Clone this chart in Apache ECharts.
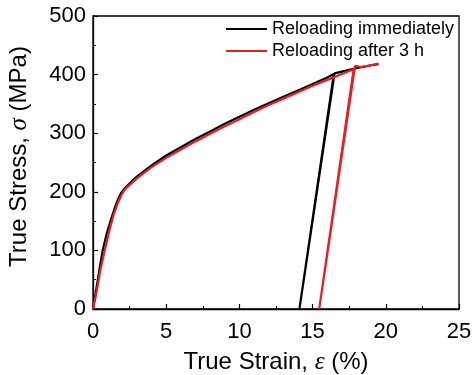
<!DOCTYPE html>
<html><head><meta charset="utf-8">
<script src="https://cdn.jsdelivr.net/npm/echarts@6/dist/echarts.min.js"></script>
<style>html,body{margin:0;padding:0;background:#fff}#c{width:474px;height:375px}</style>
</head><body><div id="c"></div>
<script>
const seriesNames = ["Reloading immediately", "Reloading after 3 h"];
const immediately = [[0,0],[0.2,30],[0.43,66],[0.66,100],[0.95,130],[1.28,157],[1.55,177],[1.75,190],[1.95,199],[2.2,207],[2.53,215],[3,226],[4,245],[5,262],[6,276],[7,290],[8,303],[9,316],[10,328],[11,340],[12,351],[13,362],[14,373],[15,384],[16,395],[16.45,401],[14.1,0],[16.5,402],[17,405],[18,411],[19,416],[19.5,418]];
const after3h = [[0,0],[0.25,30],[0.5,66],[0.8,100],[1.1,132],[1.4,160],[1.7,181],[1.95,195],[2.2,205],[2.6,214],[3,223],[4,242],[5,258],[6,272],[7,286],[8,299],[9,312],[10,324],[11,336],[12,348],[13,359],[14,370],[15,381],[16,391],[17,401],[17.8,409],[15.45,0],[17.9,415],[18.3,413],[19,416],[19.5,419]];
const xTicks = {min:0, max:25, interval:5};
const yTicks = {min:0, max:500, interval:100};

const chart = echarts.init(document.getElementById('c'), null, {renderer:'canvas'});
const FONT = 'Liberation Sans, Arial, sans-serif';
const axisCommon = {
  axisLine:{show:true, lineStyle:{color:'#000', width:1.3}},
  axisTick:{show:true, inside:true, length:5, lineStyle:{color:'#000', width:1.2}},
  minorTick:{show:true, splitNumber:2, length:3, lineStyle:{color:'#000', width:1}},
  splitLine:{show:false},
  axisLabel:{color:'#000', fontSize:22, fontFamily:FONT},
  nameTextStyle:{color:'#000', fontSize:24, fontFamily:FONT,
    rich:{i:{fontStyle:'italic', fontFamily:'Liberation Serif, Times New Roman, serif', fontSize:25, color:'#000'}}}
};
chart.setOption({
  animation:false,
  grid:{left:93, right:15, top:16, bottom:66, containLabel:false, outerBoundsMode:'none',
    show:true, borderColor:'#000', borderWidth:1.3, backgroundColor:'transparent'},
  legend:{
    data:seriesNames, orient:'vertical', left:226, top:18, itemGap:0, padding:0,
    icon:'rect', itemWidth:41, itemHeight:2,
    textStyle:{color:'#000', fontSize:18, fontFamily:FONT, lineHeight:22, padding:[0,0,0,0]},
    itemStyle:{borderWidth:0}
  },
  xAxis:Object.assign({type:'value', min:xTicks.min, max:xTicks.max, interval:xTicks.interval,
    name:'True Strain, {i|ε} (%)', nameLocation:'middle', nameGap:41}, axisCommon,
    {axisLabel:Object.assign({}, axisCommon.axisLabel, {margin:12})}),
  yAxis:Object.assign({type:'value', min:yTicks.min, max:yTicks.max, interval:yTicks.interval,
    name:'True Stress, {i|σ} (MPa)', nameLocation:'middle', nameGap:61}, axisCommon,
    {axisLabel:Object.assign({}, axisCommon.axisLabel, {margin:7}),
     nameTextStyle:Object.assign({}, axisCommon.nameTextStyle, {padding:[0,0,0,12]})}),
  series:[
    {name:seriesNames[0], type:'line', data:immediately, showSymbol:false, symbol:'none', smooth:false,
     lineStyle:{color:'#000', width:2.2}, itemStyle:{color:'#000'}},
    {name:seriesNames[1], type:'line', data:after3h, showSymbol:false, symbol:'none', smooth:false,
     lineStyle:{color:'#ec1c24', width:2.2}, itemStyle:{color:'#ec1c24'}}
  ]
});
</script></body></html>
